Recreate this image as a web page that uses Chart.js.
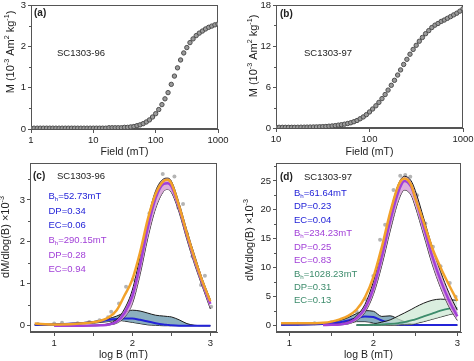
<!DOCTYPE html>
<html lang="en">
<head>
<meta charset="utf-8">
<title>IRM acquisition and unmixing, SC1303-96 / SC1303-97</title>
<script src="https://cdn.jsdelivr.net/npm/chart.js@4"></script>
<style>
body { margin: 0; background: #fff; }
#wrap { position: relative; width: 474px; height: 361px; overflow: hidden; background: #fff; }
#wrap canvas { position: absolute; }
</style>
</head>
<body>
<div id="wrap">
  <canvas id="pa" width="237" height="163" style="left:0;top:0;width:237px;height:163px"></canvas>
  <canvas id="pb" width="237" height="163" style="left:237px;top:0;width:237px;height:163px"></canvas>
  <canvas id="pc" width="237" height="206" style="left:0;top:155px;width:237px;height:206px"></canvas>
  <canvas id="pd" width="237" height="206" style="left:237px;top:155px;width:237px;height:206px"></canvas>
</div>
<script>
// ---- (a) SC1303-96 IRM acquisition (field in mT, M in 1e-3 Am2/kg)
const fieldA = [1, 1.12, 1.26, 1.41, 1.58, 1.78, 2, 2.24, 2.51, 2.82, 3.16, 3.55, 3.98, 4.47, 5.01, 5.62, 6.31, 7.08, 7.94, 8.91,
  10, 11.2, 12.6, 14.1, 15.8, 17.8, 20, 22.4, 25.1, 28.2, 31.6, 35.5, 39.8, 44.7, 50.1, 56.2, 63.1, 70.8, 79.4, 89.1,
  100, 112, 126, 141, 158, 178, 200, 224, 251, 282, 316, 355, 398, 447, 501, 562, 631, 708, 794, 891, 1000];
const irmA = [0.02, 0.02, 0.02, 0.02, 0.02, 0.02, 0.02, 0.02, 0.02, 0.02, 0.02, 0.02, 0.02, 0.02, 0.02, 0.02, 0.02, 0.02, 0.02, 0.02,
  0.02, 0.02, 0.02, 0.02, 0.02, 0.03, 0.03, 0.03, 0.03, 0.03, 0.04, 0.04, 0.05, 0.06, 0.08, 0.1, 0.13, 0.17, 0.22, 0.29,
  0.37, 0.47, 0.59, 0.73, 0.88, 1.08, 1.28, 1.48, 1.67, 1.84, 1.97, 2.09, 2.18, 2.26, 2.32, 2.37, 2.42, 2.46, 2.49, 2.52, 2.54];

// ---- (b) SC1303-97 IRM acquisition
const fieldB = [10, 10.8, 11.7, 12.6, 13.6, 14.7, 15.8, 17.1, 18.5, 20, 21.5, 23.2, 25.1, 27.1, 29.3, 31.6, 34.1, 36.8, 39.8, 43,
  46.4, 50.1, 54.1, 58.5, 63.1, 68.1, 73.6, 79.4, 85.8, 92.6, 100, 108, 117, 126, 136, 147, 158, 171, 185, 200,
  215, 232, 251, 271, 293, 316, 341, 368, 398, 430, 464, 501, 541, 585, 631, 681, 736, 794, 858, 926, 1000];
const irmB = [0.1, 0.1, 0.1, 0.1, 0.1, 0.1, 0.1, 0.11, 0.12, 0.12, 0.13, 0.14, 0.15, 0.16, 0.18, 0.2, 0.22, 0.26, 0.3, 0.35,
  0.42, 0.48, 0.56, 0.66, 0.77, 0.92, 1.1, 1.35, 1.62, 1.95, 2.35, 2.78, 3.25, 3.75, 4.3, 4.9, 5.55, 6.25, 6.98, 7.75,
  8.5, 9.3, 10.05, 10.8, 11.5, 12.1, 12.7, 13.25, 13.8, 14.25, 14.7, 15.05, 15.3, 15.6, 15.8, 16.05, 16.3, 16.55, 16.8, 17.1, 17.45];

// ---- (c) SC1303-96 gradient curve (log B, dM/dlogB x1e-3)
const cDotX = [0.79, 1.0, 1.1, 1.3, 1.45, 1.58, 1.69, 1.73, 1.83, 1.92, 2.01, 2.12, 2.22, 2.31, 2.39, 2.54, 2.59, 2.65, 2.7, 2.77, 2.88, 2.93, 3.01];
const cDotY = [0.04, 0.05, 0.07, 0.06, 0.09, 0.13, 0.2, 0.33, 0.53, 0.93, 1.1, 1.77, 2.68, 3.12, 3.62, 3.56, 2.82, 2.9, 2.2, 1.65, 0.97, 1.19, 0.45];
const cX      = [0.75, 1.0, 1.25, 1.5, 1.6, 1.7, 1.8, 1.9, 2.0, 2.1, 2.2, 2.3, 2.4, 2.45, 2.5, 2.6, 2.7, 2.8, 2.9, 3.0];
const cTotal  = [0.05, 0.03, 0.04, 0.08, 0.12, 0.2, 0.37, 0.72, 1.1, 1.75, 2.55, 3.15, 3.45, 3.48, 3.4, 2.85, 2.2, 1.6, 1.05, 0.58];
const cSoft   = [0.02, 0.03, 0.05, 0.08, 0.11, 0.14, 0.16, 0.17, 0.17, 0.14, 0.1, 0.06, 0.03, 0.02, 0.01, 0, 0, 0, 0, 0];
const cSoftHi = [0.03, 0.04, 0.06, 0.1, 0.13, 0.17, 0.23, 0.31, 0.37, 0.35, 0.3, 0.25, 0.23, 0.22, 0.21, 0.14, 0.05, 0.01, 0, 0];
const cSoftLo = [0.01, 0.02, 0.04, 0.06, 0.08, 0.1, 0.13, 0.11, 0.08, 0.05, 0.02, 0.01, 0, 0, 0, 0, 0, 0, 0, 0];
const cHard   = [null, 0, 0, 0.005, 0.01, 0.03, 0.1, 0.3, 0.7, 1.45, 2.35, 3.05, 3.38, 3.4, 3.33, 2.82, 2.17, 1.57, 1.02, 0.52];
const cHardHi = [null, 0, 0, 0.01, 0.02, 0.05, 0.15, 0.4, 0.85, 1.65, 2.55, 3.22, 3.5, 3.52, 3.45, 2.92, 2.27, 1.67, 1.1, 0.62];
const cHardLo = [null, 0, 0, 0, 0.005, 0.02, 0.06, 0.2, 0.52, 1.22, 2.1, 2.8, 3.2, 3.25, 3.18, 2.7, 2.05, 1.45, 0.92, 0.4];

// ---- (d) SC1303-97 gradient curve
const dDotX = [0.93, 1.1, 1.3, 1.5, 1.65, 1.8, 1.9, 2.0, 2.08, 2.14, 2.24, 2.32, 2.38, 2.44, 2.52, 2.62, 2.71, 2.8, 2.91, 2.98];
const dDotY = [0.2, 0.25, 0.3, 0.5, 1.0, 2.4, 4.5, 8.5, 14.8, 17.4, 23.4, 25.9, 26.0, 25.7, 22.5, 17.6, 13.6, 10.2, 7.3, 4.9];
const dX      = [0.9, 1.2, 1.4, 1.5, 1.6, 1.7, 1.8, 1.9, 2.0, 2.1, 2.2, 2.3, 2.37, 2.45, 2.5, 2.6, 2.7, 2.8, 2.9, 3.0];
const dTotal  = [0.3, 0.3, 0.4, 0.6, 1.0, 1.6, 2.7, 4.8, 8.3, 13.5, 19.5, 24.3, 25.4, 24.3, 22.0, 17.8, 13.4, 10.0, 7.0, 4.2];
const dSoft   = [0.05, 0.1, 0.2, 0.3, 0.5, 0.8, 1.2, 1.5, 1.4, 0.8, 0.3, 0.1, 0.05, 0.02, 0.01, 0, 0, 0, 0, 0];
const dSoftHi = [0.1, 0.2, 0.35, 0.5, 0.8, 1.3, 2.0, 2.5, 2.4, 1.5, 1.6, 1.0, 0.6, 0.2, 0.05, 0, 0, 0, 0, 0];
const dSoftLo = [0.02, 0.05, 0.1, 0.15, 0.25, 0.4, 0.6, 0.6, 0.4, 0.15, 0.05, 0.02, 0, 0, 0, 0, 0, 0, 0, 0];
const dHard   = [null, null, 0, 0.05, 0.1, 0.4, 1.2, 2.9, 6.4, 11.8, 18.0, 23.2, 25.0, 24.0, 22.0, 17.0, 12.0, 7.8, 4.3, 1.5];
const dHardHi = [null, null, 0, 0.1, 0.2, 0.6, 1.6, 3.6, 7.5, 13.2, 19.5, 24.5, 25.8, 25.0, 23.3, 18.5, 13.6, 9.3, 5.6, 2.6];
const dHardLo = [null, null, 0, 0, 0.05, 0.2, 0.8, 2.2, 5.3, 10.3, 16.3, 21.6, 23.4, 22.5, 20.5, 15.6, 10.6, 6.5, 3.2, 0.8];
const dHigh   = [null, null, null, null, null, null, 0, 0.02, 0.05, 0.1, 0.2, 0.35, 0.5, 0.8, 1.0, 1.5, 2.0, 2.5, 2.85, 2.95];
const dHighHi = [null, null, null, null, null, null, 0, 0.05, 0.2, 0.5, 0.9, 1.6, 2.1, 2.7, 3.1, 3.8, 4.3, 4.5, 4.4, 4.3];
const dHighLo = [null, null, null, null, null, null, 0, 0, 0, 0, 0, 0.05, 0.08, 0.12, 0.25, 0.6, 1.0, 1.4, 1.8, 2.1];

// tick values
const logTicksA = [1, 10, 100, 1000];
const logTicksB = [10, 100, 1000];
const yTicksA = [0, 1, 2, 3], yMinorA = [0.5, 1.5, 2.5];
const yTicksB = [0, 6, 12, 18], yMinorB = [3, 9, 15];
const yTicksC = [0, 1, 2, 3], yMinorC = [0.5, 1.5, 2.5, 3.5];
const yTicksD = [0, 5, 10, 15, 20, 25], yMinorD = [2.5, 7.5, 12.5, 17.5, 22.5, 27.5];
const logBTicks = [1, 1.5, 2, 2.5, 3];

const FONT = '"Liberation Sans", Arial, Helvetica, sans-serif';
Chart.defaults.font.family = FONT;
Chart.defaults.color = '#222';
Chart.defaults.animation = false;

const AXIS = '#555';
const BLUE = '#2323d8', PURPLE = '#a240d8', GREEN = '#3d8c6c', ORANGE = '#f2a22a';

function pts(xs, ys) { return xs.map((x, i) => ({ x: x, y: ys[i] })); }

// draw text made of pieces (plain / sup / sub) so units read like the original
function drawRich(ctx, n) {
  const size = n.size || 9.5;
  const parts = n.parts.map(p => typeof p === 'string' ? { t: p } : p);
  const fontOf = p => (n.bold ? 'bold ' : '') + ((p.sup || p.sub) ? size * 0.65 : size) + 'px ' + FONT;
  ctx.save();
  ctx.translate(n.x, n.y);
  if (n.rotate) ctx.rotate(n.rotate);
  ctx.fillStyle = n.color || '#222';
  ctx.textBaseline = 'middle';
  ctx.textAlign = 'left';
  let w = 0;
  parts.forEach(p => { ctx.font = fontOf(p); w += ctx.measureText(p.t).width; });
  let x = n.center ? -w / 2 : 0;
  parts.forEach(p => {
    ctx.font = fontOf(p);
    const dy = p.sup ? -size * 0.33 : p.sub ? size * 0.3 : 0;
    ctx.fillText(p.t, x, dy);
    x += ctx.measureText(p.t).width;
  });
  ctx.restore();
}

const extras = {
  id: 'extras',
  beforeDatasetsDraw(chart, args, o) {
    const { ctx, chartArea: a } = chart;
    ctx.save();
    ctx.strokeStyle = AXIS;
    ctx.lineWidth = 1;
    const l = Math.round(a.left) + 0.5, t = Math.round(a.top) + 0.5;
    const r = Math.round(a.right) - 0.5, b = Math.round(a.bottom) - 0.5;
    ctx.strokeRect(l, t, r - l, b - t);
    // minor ticks on the y axis
    (o.minorY || []).forEach(v => {
      const y = Math.round(chart.scales.y.getPixelForValue(v)) + 0.5;
      if (y < a.top || y > a.bottom) return;
      ctx.beginPath(); ctx.moveTo(a.left - 2, y); ctx.lineTo(a.left, y); ctx.stroke();
    });
    ctx.restore();
  },
  afterDraw(chart, args, o) {
    (o.notes || []).forEach(n => drawRich(chart.ctx, n));
  }
};

function scales(c) {
  return {
    x: {
      type: c.xType, min: c.xMin, max: c.xMax,
      border: { color: AXIS },
      grid: { display: true, drawOnChartArea: false, tickLength: 4, color: AXIS },
      ticks: {
        padding: 2, font: { size: 9.5 }, maxRotation: 0, autoSkip: false,
        callback: v => (Number.isInteger(v) ? String(v) : '')
      },
      afterBuildTicks: s => { s.ticks = c.xTicks.map(v => ({ value: v })); },
      title: { display: true, text: c.xTitle, color: '#222', font: { size: 10.5, lineHeight: 1 }, padding: { top: 0, bottom: c.xTitlePad } },
      afterFit: s => { s.height = c.xH; s.paddingLeft = 0; s.paddingRight = 0; }
    },
    y: {
      type: 'linear', min: c.yMin, max: c.yMax,
      border: { color: AXIS },
      grid: { display: true, drawOnChartArea: false, tickLength: 3, color: AXIS },
      ticks: { padding: 2, font: { size: 9.5 }, autoSkip: false },
      afterBuildTicks: s => { s.ticks = c.yTicks.map(v => ({ value: v })); },
      afterFit: s => { s.width = c.yW; s.paddingTop = 0; s.paddingBottom = 0; }
    }
  };
}

function baseOptions(c, pad, minorY, notes) {
  return {
    responsive: false,
    animation: false,
    layout: { padding: { left: 0, top: pad.top, right: pad.right, bottom: 0 } },
    scales: scales(c),
    plugins: { legend: { display: false }, tooltip: { enabled: false }, extras: { minorY: minorY, notes: notes } },
    elements: { point: { radius: 0 } }
  };
}

function irmSet(xs, ys) {
  return {
    data: pts(xs, ys), showLine: false, pointRadius: 2.2, pointBorderWidth: 1,
    pointBorderColor: '#4d4d4d', pointBackgroundColor: '#9a9a9a', pointStyle: 'circle'
  };
}

function band(xs, ys, fillColor, order) {
  return {
    data: pts(xs, ys), borderColor: '#1a1a1a', borderWidth: 1, pointRadius: 0,
    cubicInterpolationMode: 'monotone', fill: fillColor ? { target: '-1', above: fillColor, below: fillColor } : false,
    backgroundColor: fillColor || 'transparent', order: order
  };
}
function curve(xs, ys, color, width, order) {
  return {
    data: pts(xs, ys), borderColor: color, borderWidth: width, pointRadius: 0,
    cubicInterpolationMode: 'monotone', fill: false, order: order
  };
}
function dots(xs, ys) {
  return {
    data: pts(xs, ys), showLine: false, pointRadius: 2, pointBorderWidth: 0,
    pointBackgroundColor: '#b4b4b4', order: 100
  };
}

const yTitleM = ['M (10', { t: '-3', sup: true }, ' Am', { t: '2', sup: true }, ' kg', { t: '-1', sup: true }, ')'];
const yTitleG = ['dM/dlog(B) \u00d710', { t: '-3', sup: true }];
const bh = v => ['B', { t: 'h', sub: true }, '=' + v];

// ---- (a)
new Chart(document.getElementById('pa'), {
  type: 'scatter',
  data: { datasets: [irmSet(fieldA, irmA)] },
  options: baseOptions(
    { xType: 'logarithmic', xMin: 1, xMax: 1000, xTicks: logTicksA, xTitle: 'Field (mT)', xTitlePad: 5.5, xH: 34,
      yMin: 0, yMax: 3, yTicks: yTicksA, yW: 31 },
    { top: 4.5, right: 19 }, yMinorA,
    [
      { x: 34, y: 13.5, parts: ['(a)'], bold: true, size: 10 },
      { x: 57, y: 53, parts: ['SC1303-96'], size: 9.5 },
      { x: 11, y: 52, parts: yTitleM, size: 11, rotate: -Math.PI / 2, center: true }
    ]),
  plugins: [extras]
});

// ---- (b)
new Chart(document.getElementById('pb'), {
  type: 'scatter',
  data: { datasets: [irmSet(fieldB, irmB)] },
  options: baseOptions(
    { xType: 'logarithmic', xMin: 10, xMax: 1000, xTicks: logTicksB, xTitle: 'Field (mT)', xTitlePad: 5.5, xH: 35,
      yMin: 0, yMax: 18, yTicks: yTicksB, yW: 39 },
    { top: 4, right: 11 }, yMinorB,
    [
      { x: 43, y: 14, parts: ['(b)'], bold: true, size: 10 },
      { x: 67, y: 53, parts: ['SC1303-97'], size: 9.5 },
      { x: 17, y: 56, parts: yTitleM, size: 11, rotate: -Math.PI / 2, center: true }
    ]),
  plugins: [extras]
});

// ---- (c)
new Chart(document.getElementById('pc'), {
  type: 'line',
  data: {
    datasets: [
      curve(cX, cTotal, ORANGE, 2.5, 1),
      dots(cDotX, cDotY),
      curve(cX, cHard, PURPLE, 2.5, 20),
      band(cX, cHardLo, null, 31),
      band(cX, cHardHi, 'rgba(214,160,214,0.85)', 30),
      curve(cX, cSoft, BLUE, 2, 40),
      band(cX, cSoftLo, null, 51),
      band(cX, cSoftHi, 'rgba(110,155,175,0.8)', 50)
    ]
  },
  options: baseOptions(
    { xType: 'linear', xMin: 0.69, xMax: 3.085, xTicks: logBTicks, xTitle: 'log B (mT)', xTitlePad: 0.5, xH: 29,
      yMin: -0.15, yMax: 3.88, yTicks: yTicksC, yW: 30 },
    { top: 8, right: 20 }, yMinorC,
    [
      { x: 33, y: 21, parts: ['(c)'], bold: true, size: 10 },
      { x: 57, y: 21, parts: ['SC1303-96'], size: 9.5 },
      { x: 48.5, y: 41.5, parts: bh('52.73mT'), color: BLUE, size: 9.5 },
      { x: 48.5, y: 56, parts: ['DP=0.34'], color: BLUE, size: 9.5 },
      { x: 48.5, y: 70, parts: ['EC=0.06'], color: BLUE, size: 9.5 },
      { x: 48.5, y: 85, parts: bh('290.15mT'), color: PURPLE, size: 9.5 },
      { x: 48.5, y: 100, parts: ['DP=0.28'], color: PURPLE, size: 9.5 },
      { x: 48.5, y: 114, parts: ['EC=0.94'], color: PURPLE, size: 9.5 },
      { x: 6, y: 82, parts: yTitleG, size: 11, rotate: -Math.PI / 2, center: true }
    ]),
  plugins: [extras]
});

// ---- (d)
new Chart(document.getElementById('pd'), {
  type: 'line',
  data: {
    datasets: [
      curve(dX, dTotal, ORANGE, 2.5, 1),
      dots(dDotX, dDotY),
      curve(dX, dHard, PURPLE, 2.5, 20),
      band(dX, dHardLo, null, 31),
      band(dX, dHardHi, 'rgba(214,160,214,0.85)', 30),
      curve(dX, dHigh, GREEN, 1.8, 35),
      band(dX, dHighLo, null, 37),
      band(dX, dHighHi, 'rgba(205,232,212,0.75)', 36),
      curve(dX, dSoft, BLUE, 2, 40),
      band(dX, dSoftLo, null, 51),
      band(dX, dSoftHi, 'rgba(110,155,175,0.8)', 50)
    ]
  },
  options: baseOptions(
    { xType: 'linear', xMin: 0.84, xMax: 3.044, xTicks: logBTicks, xTitle: 'log B (mT)', xTitlePad: 0.5, xH: 29,
      yMin: -1.2, yMax: 28.1, yTicks: yTicksD, yW: 39 },
    { top: 8, right: 13 }, yMinorD,
    [
      { x: 43, y: 22, parts: ['(d)'], bold: true, size: 10 },
      { x: 67, y: 22, parts: ['SC1303-97'], size: 9.5 },
      { x: 57, y: 38.3, parts: bh('61.64mT'), color: BLUE, size: 9.5 },
      { x: 57, y: 51.7, parts: ['DP=0.23'], color: BLUE, size: 9.5 },
      { x: 57, y: 65, parts: ['EC=0.04'], color: BLUE, size: 9.5 },
      { x: 57, y: 78.5, parts: bh('234.23mT'), color: PURPLE, size: 9.5 },
      { x: 57, y: 92, parts: ['DP=0.25'], color: PURPLE, size: 9.5 },
      { x: 57, y: 105.5, parts: ['EC=0.83'], color: PURPLE, size: 9.5 },
      { x: 57, y: 119, parts: bh('1028.23mT'), color: GREEN, size: 9.5 },
      { x: 57, y: 132.5, parts: ['DP=0.31'], color: GREEN, size: 9.5 },
      { x: 57, y: 145.7, parts: ['EC=0.13'], color: GREEN, size: 9.5 },
      { x: 13, y: 85, parts: yTitleG, size: 11, rotate: -Math.PI / 2, center: true }
    ]),
  plugins: [extras]
});
</script>
</body>
</html>
